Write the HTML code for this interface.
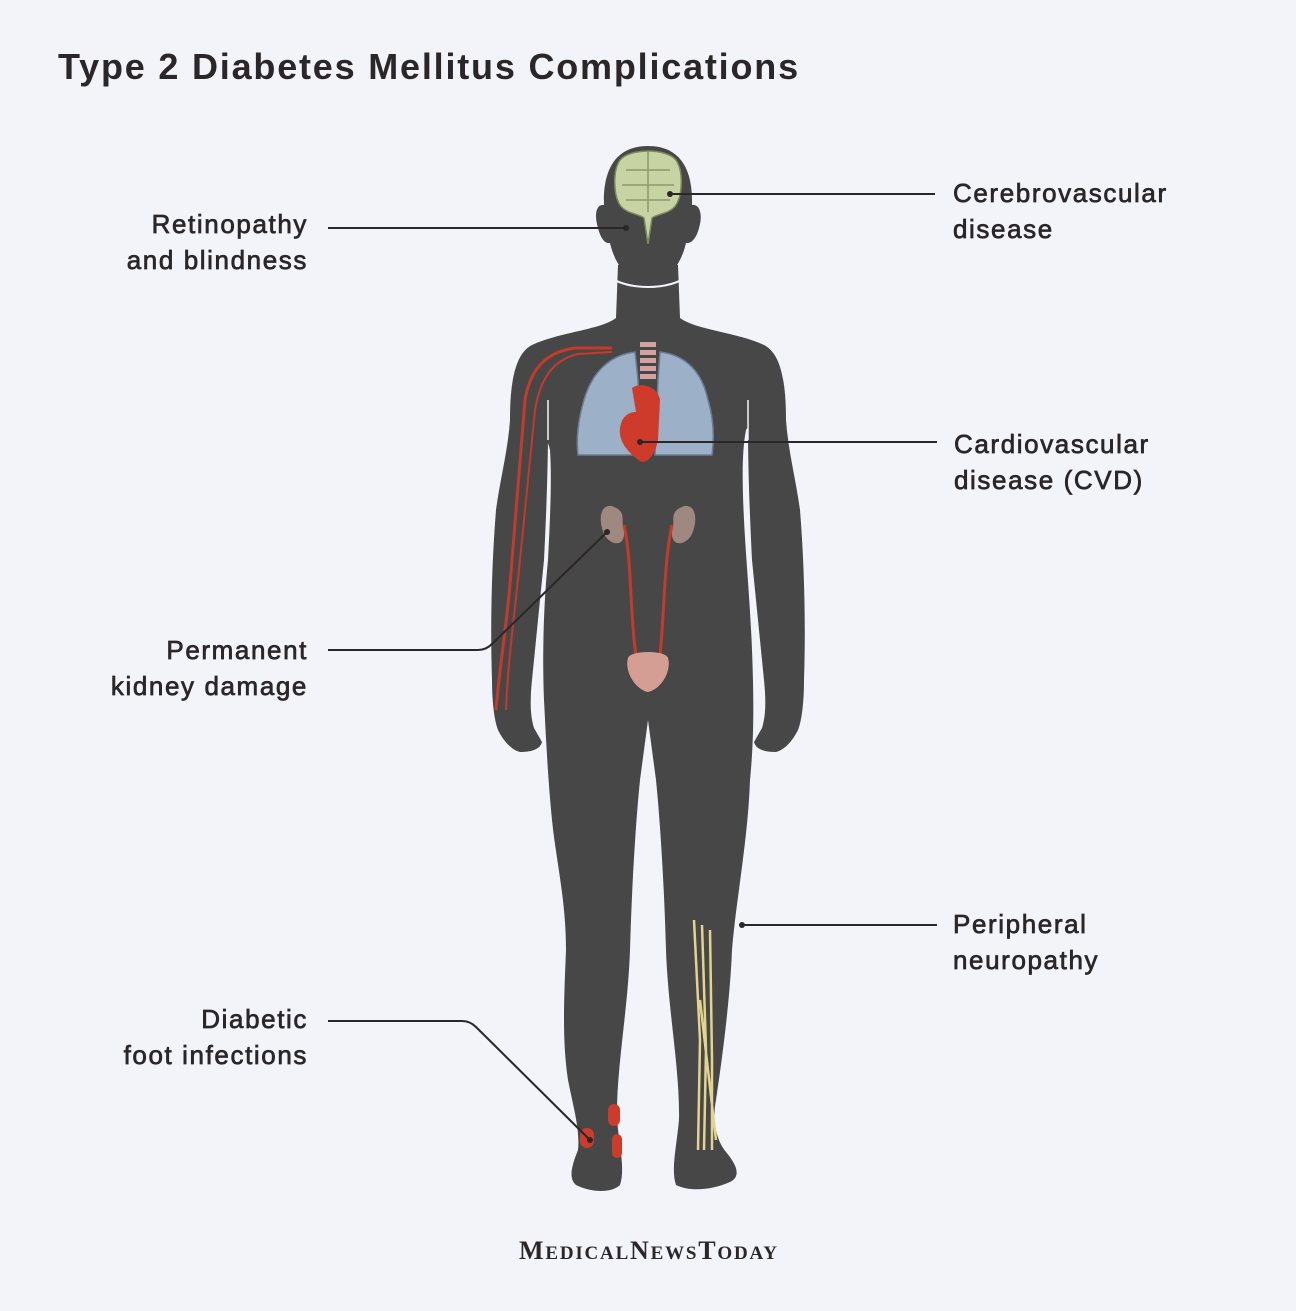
<!DOCTYPE html>
<html><head><meta charset="utf-8"><style>
html,body{margin:0;padding:0;background:#f2f4f9;}
svg{display:block}
text{font-family:"Liberation Sans",sans-serif;fill:#2b2628}
</style></head><body>
<svg width="1296" height="1311" viewBox="0 0 1296 1311" xmlns="http://www.w3.org/2000/svg">
<rect width="1296" height="1311" fill="#f2f4f9"/>
<text x="58" y="79" font-size="36" font-weight="bold" letter-spacing="1.8">Type 2 Diabetes Mellitus Complications</text>

<g fill="#474747">
<path d="M648 146 C612 146 603 175 604 205 C596 204 594 215 598 228 C601 240 606 244 610 243 C615 265 630 285 648 286 C666 285 681 265 686 243 C690 244 696 240 699 228 C703 215 700 204 692 205 C693 175 684 146 648 146Z"/>
<path d="M618 265 L616 318 C600 330 560 332 532 345 C514 355 512 380 514 410 C530 420 546 430 550 450 C552 480 550 520 548 560 C544 600 542 650 544 700 C546 740 548 780 552 820 C556 860 566 900 566 950 C564 1000 562 1040 568 1080 C574 1110 580 1130 578 1150 C572 1165 568 1178 576 1185 C592 1193 612 1193 620 1185 C625 1170 620 1150 617 1120 C616 1070 628 1010 630 950 C632 880 636 820 640 780 L648 720 L656 780 C660 820 664 880 666 950 C668 1010 680 1070 679 1120 C676 1150 671 1170 676 1185 C690 1192 712 1190 730 1182 C742 1176 736 1164 726 1152 C716 1140 712 1120 716 1100 C722 1060 730 1000 732 950 C736 900 748 840 750 780 C754 740 754 700 752 650 C750 600 746 560 744 520 C742 480 742 450 746 430 C752 420 770 415 784 410 C784 380 782 355 764 345 C736 332 696 330 680 318 L678 265Z"/>
<path d="M532 345 C514 355 510 385 510 420 C508 450 500 480 496 510 C492 560 490 620 492 680 C492 700 494 720 498 730 C504 742 512 750 520 752 C530 752 540 750 542 742 L534 728 C530 715 530 700 532 680 C536 640 540 600 544 560 C546 520 548 470 548 430 C546 400 540 370 532 345Z"/>
<path d="M764 345 C782 355 786 385 786 420 C788 450 796 480 800 510 C804 560 806 620 804 680 C804 700 802 720 798 730 C792 742 784 750 776 752 C766 752 756 750 754 742 L762 728 C766 715 766 700 764 680 C760 640 756 600 752 560 C750 520 748 470 748 430 C750 400 756 370 764 345Z"/>
</g>
<path d="M548 400 L548 440 M748 400 L748 440" stroke="#f2f4f9" stroke-width="1.5" fill="none"/>
<path d="M606 275 C620 285 635 287 648 287 C661 287 676 285 690 275" stroke="#f2f4f9" stroke-width="2" fill="none"/>

<path d="M620 160 C630 148 666 148 676 160 C684 172 682 196 676 205 C670 214 656 214 652 218 L648 244 L644 218 C640 214 626 214 620 205 C614 196 612 172 620 160Z" fill="#c8d3a4" stroke="#7a8a5c" stroke-width="1.5"/>
<path d="M648 152 L648 212 M626 170 H670 M622 185 H674 M626 200 H670" stroke="#8a9a6a" stroke-width="1.5" fill="none"/>

<path d="M635 352 C610 355 592 372 584 400 C578 420 576 440 578 455 L640 455 L638 380Z" fill="#9cb0c8" stroke="#6a7d94" stroke-width="1.5"/>
<path d="M660 352 C686 355 702 372 708 400 C714 420 714 440 712 455 L655 455 L658 380Z" fill="#9cb0c8" stroke="#6a7d94" stroke-width="1.5"/>
<g fill="#d4a0a0"><rect x="640" y="342" width="16" height="5"/><rect x="640" y="350" width="16" height="5"/><rect x="640" y="358" width="16" height="5"/><rect x="640" y="366" width="16" height="5"/><rect x="640" y="374" width="16" height="5"/></g>
<path d="M632 388 C640 382 658 386 660 400 L658 440 C655 455 648 462 642 462 C630 455 618 442 620 428 C622 415 630 412 636 412Z" fill="#cf3b2b"/>
<path d="M612 348 L575 348 C545 352 530 370 525 400 L512 560 C508 620 500 660 496 710" stroke="#c53a2a" stroke-width="3" fill="none"/>
<path d="M612 352 L578 354 C552 360 540 380 535 410 L520 560 C514 620 508 660 506 710" stroke="#c53a2a" stroke-width="2" fill="none"/>

<path d="M612 506 C600 504 598 520 604 534 C610 546 626 548 624 530 C620 520 628 512 612 506Z" fill="#9e8880"/>
<path d="M684 506 C696 504 698 520 692 534 C686 546 670 548 672 530 C676 520 668 512 684 506Z" fill="#9e8880"/>
<path d="M624 525 C632 560 630 620 636 655 M672 525 C664 560 664 620 660 655" stroke="#c53a2a" stroke-width="3" fill="none"/>
<path d="M628 658 C630 650 666 650 668 658 C672 672 660 690 648 692 C636 690 624 672 628 658Z" fill="#d49e94"/>

<g fill="#cf3b2b">
<rect x="608" y="1104" width="12" height="22" rx="6"/>
<rect x="612" y="1134" width="10" height="24" rx="5"/>
<rect x="580" y="1128" width="14" height="20" rx="7"/>
</g>
<path d="M694 920 L700 1040 L698 1150 M702 925 L706 1050 L704 1150 M710 930 L712 1060 L712 1150 M700 1000 L716 1140" stroke="#e2d38e" stroke-width="2.5" fill="none"/>

<g stroke="#2b2628" stroke-width="2" fill="none">
<path d="M328 228 H626"/>
<path d="M670 194 H935"/>
<path d="M640 442 H937"/>
<path d="M328 650 H478 Q486 650 492 644 L607 532"/>
<path d="M742 925 H937"/>
<path d="M328 1021 H462 Q470 1021 476 1027 L590 1140"/>
</g>
<g fill="#2b2628"><circle cx="626" cy="228" r="3"/><circle cx="670" cy="194" r="3"/><circle cx="640" cy="442" r="3"/><circle cx="607" cy="532" r="3"/><circle cx="742" cy="925" r="3"/><circle cx="590" cy="1140" r="3"/></g>

<g font-size="26" letter-spacing="1.6" stroke="#2b2628" stroke-width="0.7">
<text x="308" y="233" text-anchor="end">Retinopathy</text>
<text x="308" y="269" text-anchor="end">and blindness</text>
<text x="953" y="202">Cerebrovascular</text>
<text x="953" y="238">disease</text>
<text x="954" y="453">Cardiovascular</text>
<text x="954" y="489">disease (CVD)</text>
<text x="308" y="659" text-anchor="end">Permanent</text>
<text x="308" y="695" text-anchor="end">kidney damage</text>
<text x="953" y="933">Peripheral</text>
<text x="953" y="969">neuropathy</text>
<text x="308" y="1028" text-anchor="end">Diabetic</text>
<text x="308" y="1064" text-anchor="end">foot infections</text>
</g>
<text x="519" y="1259" font-size="26" font-weight="bold" style="font-family:'Liberation Serif',serif" textLength="258">M<tspan font-size="19">EDICAL</tspan>N<tspan font-size="19">EWS</tspan>T<tspan font-size="19">ODAY</tspan></text>
</svg>
</body></html>
